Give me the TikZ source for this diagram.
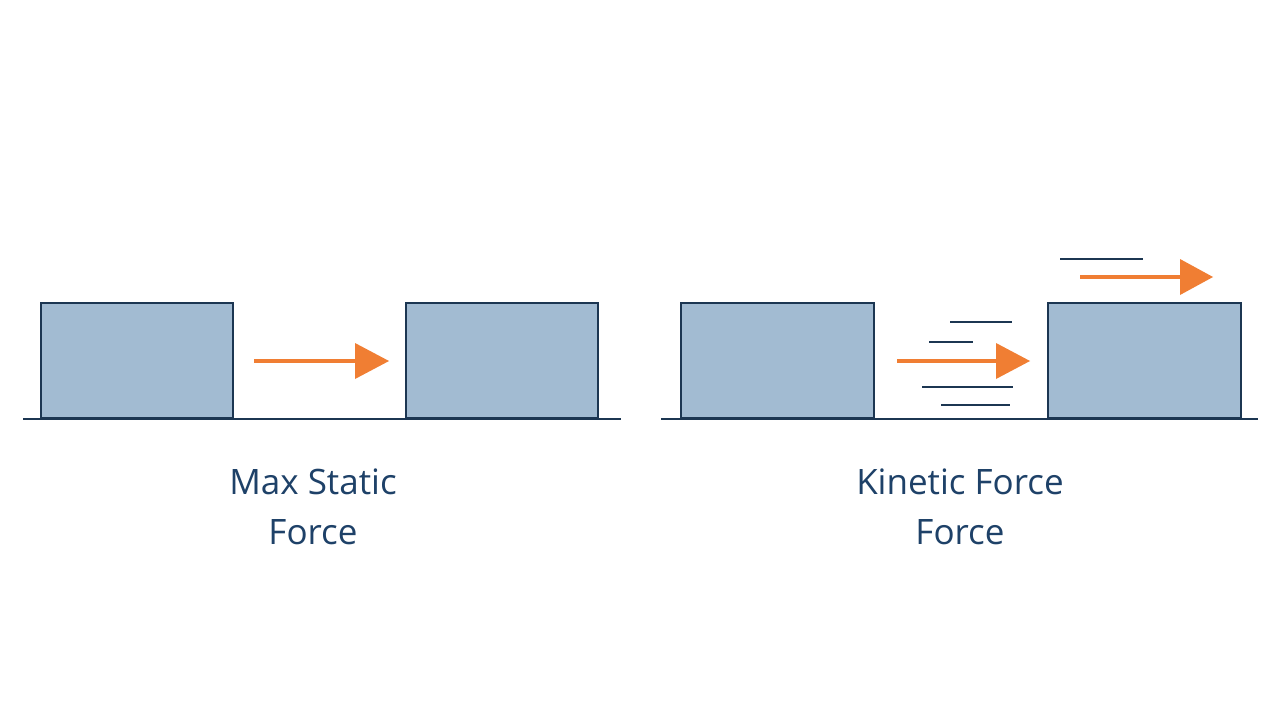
\documentclass[tikz,border=0pt]{standalone}
\usepackage{fontspec}
\setmainfont{Open Sans}
\definecolor{navy}{HTML}{1C3652}
\definecolor{txt}{HTML}{1E4168}
\definecolor{boxfill}{HTML}{A2BBD2}
\definecolor{orng}{HTML}{F07E33}
\begin{document}
\begin{tikzpicture}[x=1pt,y=-1pt,
  blk/.style={draw=navy,line width=2.3pt,fill=boxfill},
  gnd/.style={draw=navy,line width=2.5pt},
  spd/.style={draw=navy,line width=2.3pt},
  farrow/.style={draw=orng,line width=3.5pt},
  fhead/.style={fill=orng},
  lbl/.style={text=txt,font=\fontsize{35}{40}\selectfont,align=center}]
\useasboundingbox (0,0) rectangle (1280,720);
\fill[white] (0,0) rectangle (1280,720);
% left
\draw[blk] (41,303) rectangle (233,418);
\draw[blk] (406,303) rectangle (598,418);
\draw[gnd] (23,419) -- (621,419);
\draw[farrow] (254,361) -- (357,361);
\fill[fhead] (355,343) -- (389,361) -- (355,379) -- cycle;
\node[lbl] (t1) at (313,482) {Max Static};
\node[lbl] (t2) at (313,532) {Force};
% right
\draw[blk] (681,303) rectangle (874,418);
\draw[blk] (1048,303) rectangle (1241,418);
\draw[gnd] (661,419) -- (1258,419);
\draw[spd] (1060,259) -- (1143,259);
\draw[farrow] (1080,277) -- (1182,277);
\fill[fhead] (1180,259) -- (1213,277) -- (1180,295) -- cycle;
\draw[spd] (950,322) -- (1012,322);
\draw[spd] (929,342) -- (973,342);
\draw[farrow] (897,361) -- (998,361);
\fill[fhead] (996,343) -- (1030,361) -- (996,379) -- cycle;
\draw[spd] (922,387) -- (1013,387);
\draw[spd] (941,405) -- (1010,405);
\node[lbl] (t3) at (960,482) {Kinetic Force};
\node[lbl] (t4) at (960,532) {Force};
\end{tikzpicture}
\end{document}
